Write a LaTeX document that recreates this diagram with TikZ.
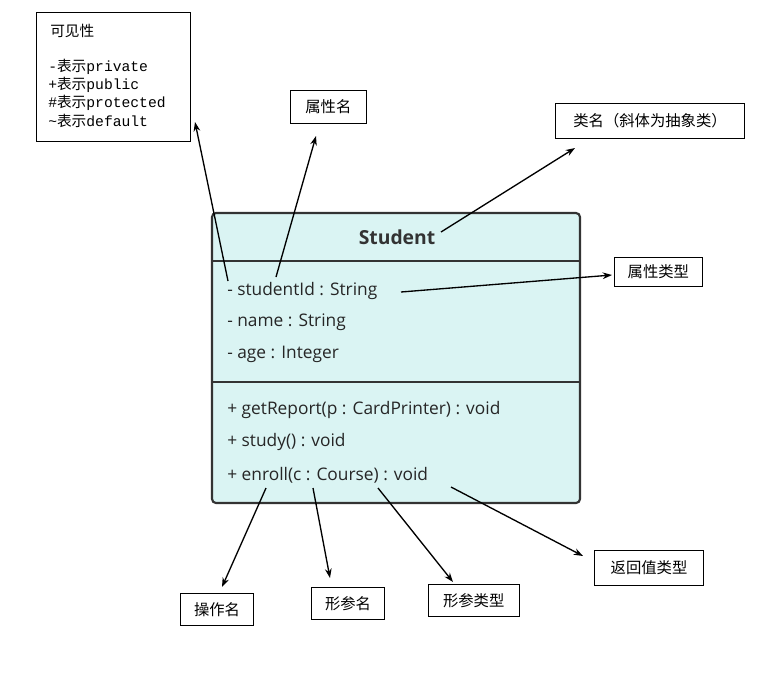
\documentclass[tikz,border=0pt]{standalone}
\usepackage{fontspec}
\setmainfont{Open Sans}
\newfontfamily\cjk{Noto Sans CJK SC}
\newfontfamily\mono{Liberation Mono}
\usetikzlibrary{arrows.meta}
\begin{document}
\begin{tikzpicture}[x=0.75pt,y=-0.75pt,
  lbl/.style={draw,line width=0.6pt,font=\cjk\fontsize{11.5}{13}\selectfont,inner sep=0pt,anchor=north west},
  arr/.style={-{Stealth[length=7pt,width=5pt]},line width=1pt},
  mem/.style={anchor=west,font=\fontsize{13}{15}\selectfont,text=black!85,inner sep=0pt}]
\useasboundingbox[fill=white] (0,0) rectangle (763,697);
% visibility box
\draw[line width=0.6pt] (36,12) rectangle (190,141);
\node[anchor=west,inner sep=0pt,font=\cjk\fontsize{11}{13}\selectfont] (vis) at (50,31) {可见性};
\newcommand\vl[3]{\node[anchor=west,inner sep=0pt,font=\mono\fontsize{11}{13}\selectfont] (#1) at (48,#2) {#3};}
\vl{v1}{67}{-{\cjk 表示}private}
\vl{v2}{85}{+{\cjk 表示}public}
\vl{v3}{103}{\#{\cjk 表示}protected}
\vl{v4}{121}{\textasciitilde{\cjk 表示}default}
\coordinate (visend) at (195,122);
% labels
\node[lbl,minimum width=57pt,minimum height=25pt] (attrname) at (290,90) {属性名};
\node[lbl,minimum width=142pt,minimum height=26pt] (classname) at (555,103) {类名（斜体为抽象类）};
\node[lbl,minimum width=66pt,minimum height=22pt] (attrtype) at (614,257) {属性类型};
\node[lbl,minimum width=82pt,minimum height=26pt] (rettype) at (594,550) {返回值类型};
\node[lbl,minimum width=55pt,minimum height=24pt] (opname) at (180,593) {操作名};
\node[lbl,minimum width=55pt,minimum height=24pt] (pname) at (311,587) {形参名};
\node[lbl,minimum width=68pt,minimum height=24pt] (ptype) at (428,584) {形参类型};
% class
\draw[fill={rgb,255:red,218;green,244;blue,243},draw=black!80,line width=1.6pt,rounded corners=3pt] (212,213) rectangle (580,503);
\draw[draw=black!80,line width=1.6pt] (212,261) -- (580,261) (212,382) -- (580,382);
\node[font=\bfseries\fontsize{14.5}{16}\selectfont,text=black!80,inner sep=0pt] (cls) at (397,237) {Student};
\node[mem] (a1) at (227,291) {- studentId : String};
\node[mem] (a2) at (227,322) {- name : String};
\node[mem] (a3) at (227,354) {- age : Integer};
\node[mem] (m1) at (227,410) {+ getReport(p : CardPrinter) : void};
\node[mem] (m2) at (227,442) {+ study() : void};
\node[mem] (m3) at (227,475) {+ enroll(c : Course) : void};
% arrow ends
\coordinate (s1) at (228,281); \coordinate (s2) at (276,277);
\coordinate (s3) at (441,232); \coordinate (s4) at (401,292);
\coordinate (s5) at (266,488); \coordinate (s6) at (313,488);
\coordinate (s7) at (378,488); \coordinate (s8) at (451,487);
\coordinate (e2) at (316,136); \coordinate (e3) at (575,148);
\coordinate (e4) at (612,275); \coordinate (e5) at (222,587);
\coordinate (e6) at (330,578); \coordinate (e7) at (453,582);
\coordinate (e8) at (583,556);
\draw[arr] (s1) -- (visend);
\draw[arr] (s2) -- (e2);
\draw[arr] (s3) -- (e3);
\draw[arr] (s4) -- (e4);
\draw[arr] (s5) -- (e5);
\draw[arr] (s6) -- (e6);
\draw[arr] (s7) -- (e7);
\draw[arr] (s8) -- (e8);
\end{tikzpicture}
\end{document}
